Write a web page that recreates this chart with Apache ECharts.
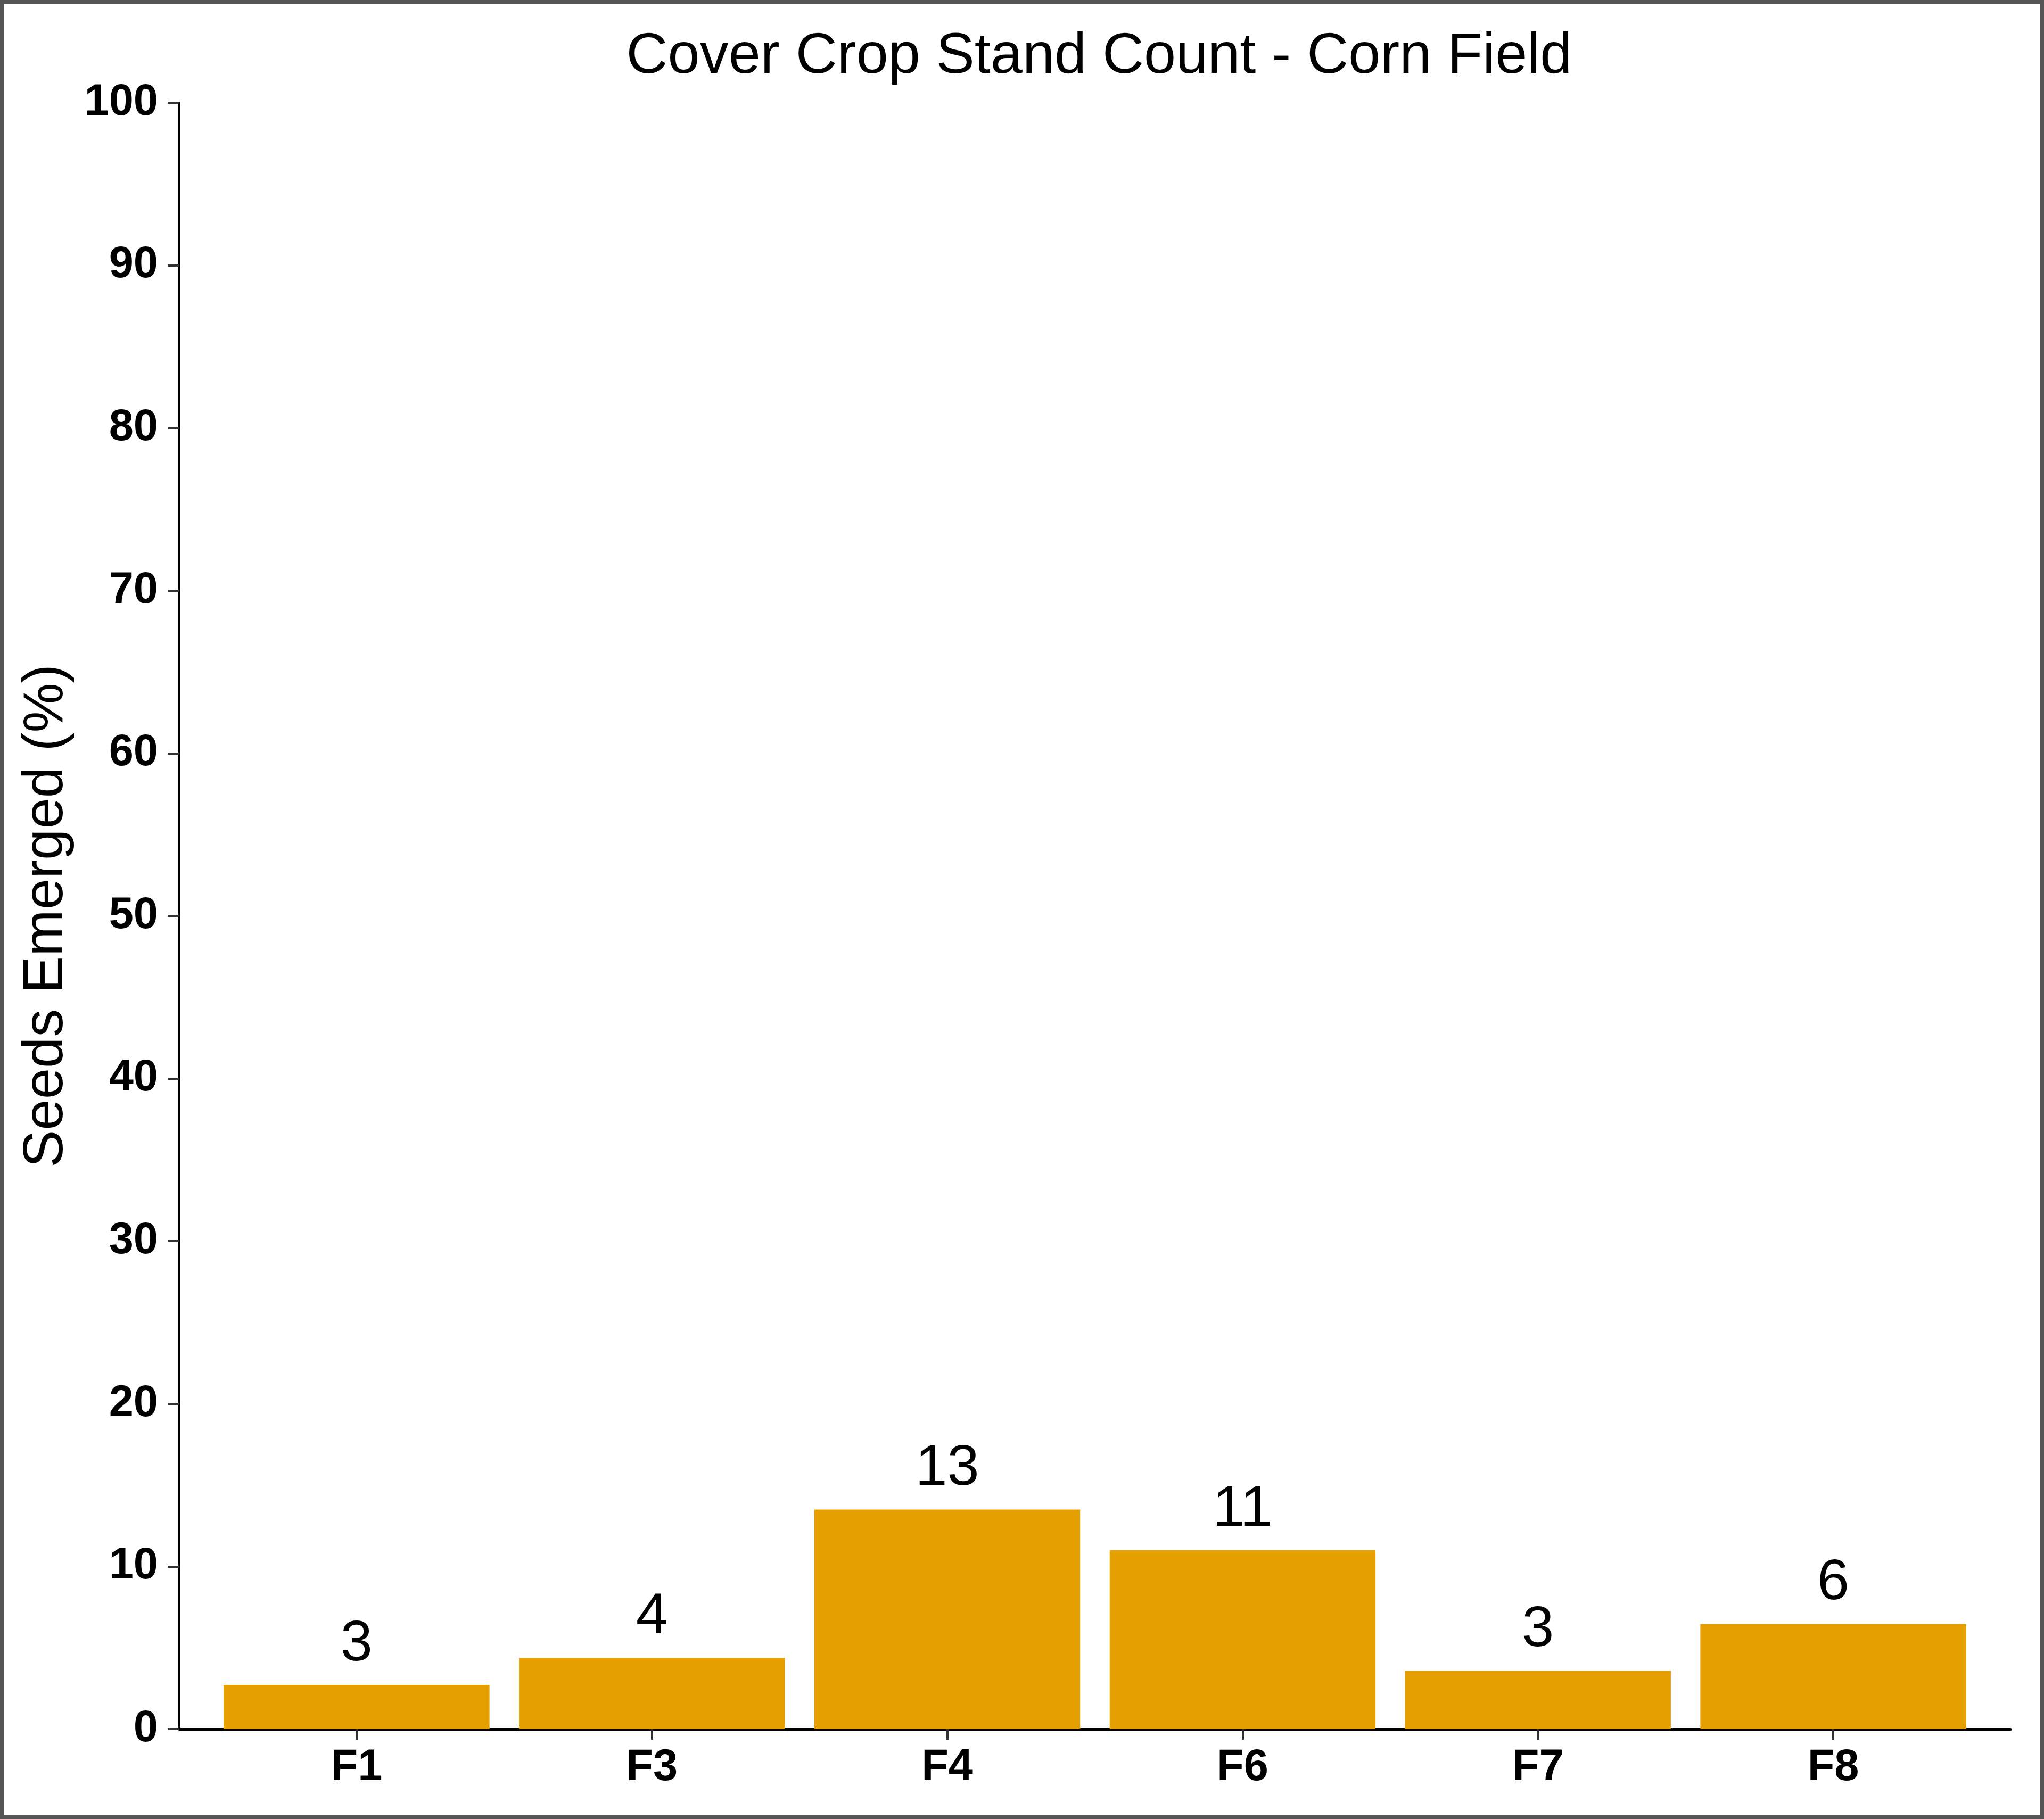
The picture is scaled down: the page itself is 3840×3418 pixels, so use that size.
<!DOCTYPE html>
<html>
<head>
<meta charset="utf-8">
<script src="https://cdn.jsdelivr.net/npm/echarts@6/dist/echarts.min.js"></script>
<style>
html,body{margin:0;padding:0;background:#fff;}
#chart{width:3840px;height:3418px;}
</style>
</head>
<body>
<div id="chart"></div>
<script>
const categories = ['F1', 'F3', 'F4', 'F6', 'F7', 'F8'];
const values = [2.72, 4.38, 13.5, 11.0, 3.58, 6.46];
const valueLabels = ['3', '4', '13', '11', '3', '6'];
const yTicks = [0, 10, 20, 30, 40, 50, 60, 70, 80, 90, 100];
const titleText = 'Cover Crop Stand Count - Corn Field';
const yName = 'Seeds Emerged (%)';

const positions = categories.map((c, i) => i + 1);
const barData = categories.map((c, i) => [positions[i], values[i]]);

const FONT = '"Liberation Sans", Arial, sans-serif';
const chart = echarts.init(document.getElementById('chart'), null, {renderer: 'canvas'});
chart.setOption({
  backgroundColor: '#ffffff',
  animation: false,
  title: {
    text: titleText,
    left: 2060,
    top: 48,
    textAlign: 'center',
    textStyle: {fontFamily: FONT, fontSize: 108, fontWeight: 'normal', color: '#000'}
  },
  graphic: [{
    type: 'rect',
    shape: {x: 4, y: 4, width: 3832, height: 3410},
    style: {fill: 'none', stroke: '#555555', lineWidth: 8},
    silent: true,
    z: 100
  }],
  grid: {left: 337, right: 63, top: 193, bottom: 169, containLabel: false},
  xAxis: {
    type: 'value',
    min: 0.4,
    max: 6.6,
    splitLine: {show: false},
    axisLine: {show: true, onZero: false, lineStyle: {color: '#000', width: 5}},
    axisTick: {show: true, customValues: positions, length: 20, lineStyle: {color: '#333', width: 4}},
    axisLabel: {
      show: true,
      customValues: positions,
      margin: 32,
      fontFamily: FONT, fontSize: 83, fontWeight: 'bold', color: '#000',
      formatter: function (v) { return categories[Math.round(v) - 1] || ''; }
    }
  },
  yAxis: {
    type: 'value',
    min: 0,
    max: 100,
    interval: 10,
    name: yName,
    nameLocation: 'middle',
    nameGap: 196,
    nameTextStyle: {fontFamily: FONT, fontSize: 105, color: '#000'},
    splitLine: {show: false},
    axisLine: {show: true, lineStyle: {color: '#000', width: 4}},
    axisTick: {show: true, length: 22, lineStyle: {color: '#333', width: 4}},
    axisLabel: {
      margin: 40,
      padding: [12, 0, 0, 0],
      fontFamily: FONT, fontSize: 83, fontWeight: 'bold', color: '#000',
      formatter: function (v) { return yTicks.indexOf(v) >= 0 ? String(v) : ''; }
    }
  },
  series: [{
    type: 'bar',
    data: barData,
    barWidth: '90%',
    itemStyle: {color: '#E69F00'},
    label: {
      show: true,
      position: 'top',
      distance: 22,
      fontFamily: FONT, fontSize: 108, color: '#000',
      formatter: function (p) { return valueLabels[p.dataIndex]; }
    }
  }]
});
</script>
</body>
</html>
